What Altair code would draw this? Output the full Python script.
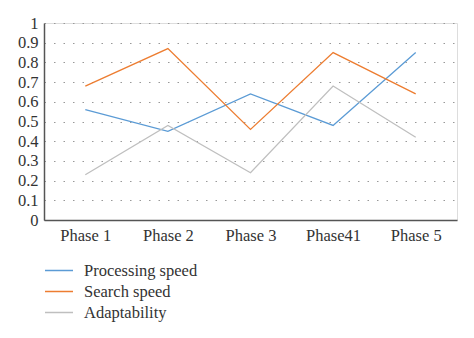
import altair as alt
import pandas as pd

phases = ["Phase 1", "Phase 2", "Phase 3", "Phase41", "Phase 5"]
processing = [0.56, 0.45, 0.64, 0.48, 0.85]
search = [0.68, 0.87, 0.46, 0.85, 0.64]
adapt = [0.23, 0.48, 0.24, 0.68, 0.42]
series = ["Processing speed", "Search speed", "Adaptability"]
colors = ["#5B9BD5", "#ED7D31", "#BFBFBF"]

rows = []
for name, vals in zip(series, [processing, search, adapt]):
    for i, (p, v) in enumerate(zip(phases, vals)):
        rows.append({"phase": p, "idx": i, "value": v, "series": name})
df = pd.DataFrame(rows)

FONT = "Liberation Serif"

chart = alt.Chart(df).mark_line(strokeWidth=1.3).encode(
    x=alt.X("phase:N", sort=phases, title=None,
            scale=alt.Scale(paddingInner=0, paddingOuter=0),
            axis=alt.Axis(labelAngle=0, ticks=False, domainColor="#555555", domainWidth=1.5,
                          labelFont=FONT, labelFontSize=16.5, labelColor="#333333",
                          labelPadding=7, grid=False)),
    y=alt.Y("value:Q", title=None,
            scale=alt.Scale(domain=[0, 1], nice=False),
            axis=alt.Axis(values=[i / 10 for i in range(11)], ticks=False, domainColor="#555555",
                          domainWidth=1.5, labelFont=FONT, labelFontSize=16.5, labelColor="#333333",
                          labelPadding=6, grid=True, gridColor="#999999", gridDash=[1.5, 8],
                          gridWidth=1.2,
                          labelExpr="datum.value == 0 ? '0' : datum.value == 1 ? '1' : format(datum.value, '.1f')")),
    color=alt.Color("series:N", sort=series,
                    scale=alt.Scale(domain=series, range=colors),
                    legend=alt.Legend(title=None, orient="none", legendX=0, legendY=237,
                                      symbolType="stroke", symbolSize=784, symbolStrokeWidth=1.3,
                                      labelFont=FONT, labelFontSize=16.5, labelColor="#333333",
                                      rowPadding=0, clipHeight=21, labelOffset=10)),
    order=alt.Order("idx:Q"),
).properties(
    width=413, height=197,
    autosize=alt.AutoSizeParams(type="none"),
    padding={"left": 44, "top": 23, "right": 17, "bottom": 118},
).configure_view(stroke=None).configure(background="white")

chart.save("out.html", embed_options={"renderer": "svg", "actions": False})
